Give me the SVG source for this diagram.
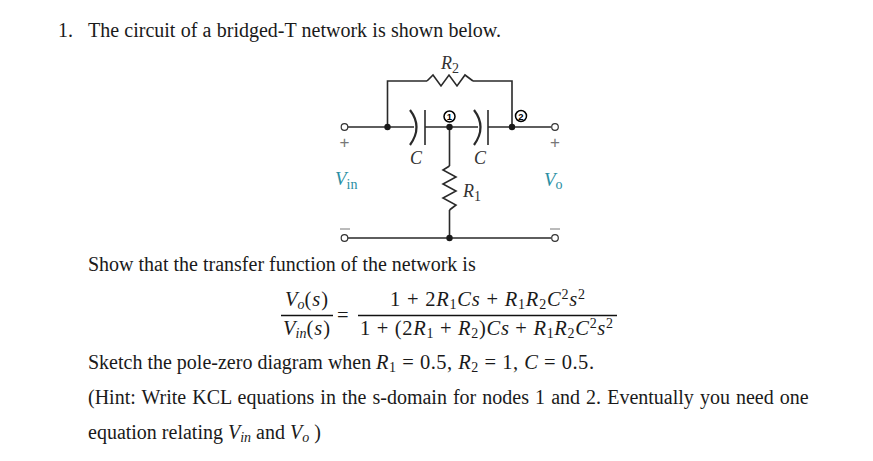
<svg xmlns="http://www.w3.org/2000/svg" width="873" height="461" viewBox="0 0 873 461">
<style>
text{font-family:"Liberation Serif","Times New Roman",serif;fill:#1a1a1a}
.b{font-size:20px}
.m{font-size:20.500px}
.i{font-style:italic}
.sb{font-size:14px}
.w{fill:none;stroke:#2a2a2a;stroke-width:1.6}
.a{fill:none;stroke:#2a2a2a;stroke-width:2.200}
.dot{fill:#1a1a1a}
.t{fill:#fff;stroke:#333;stroke-width:1.2}
.lab{font-size:18px;font-style:italic;fill:#333}
.cy{font-size:19px;font-style:italic;fill:#2b8fa3}
.sub{font-size:14px;font-style:normal}
.n{font-family:"Liberation Sans",sans-serif;font-size:9.500px;font-weight:bold;text-anchor:middle;fill:#000}
.nc{fill:#fff;stroke:#000;stroke-width:1.500}
.sg{font-family:"Liberation Sans",sans-serif;font-size:17px;fill:#777;text-anchor:middle}
.r{stroke:#111;stroke-width:1.500}
</style>
<rect width="873" height="461" fill="#fff"/>
<g id="connectors">
<path class="w" d="M348 127H414M425 127H478M488 127H551M387.500 127V81H427M473 81H512V127M449.500 127V166M449.500 210V238M348 238H551"/>
<path class="w" d="M427 81L433 75L441 86L449 75L457 86L465 75L473 81"/>
<path class="w" d="M449.500 166L443 170L456 177L443 184L456 191L443 198L456 205L449.500 210"/>
</g>
<g id="cap1"><path class="a" d="M410 110Q423 127 410 145"/><path class="w" d="M425 110V145"/></g>
<g id="cap2"><path class="a" d="M474 110Q487 127 474 145"/><path class="w" d="M488 110V145"/></g>
<g id="junctions">
<circle class="dot" cx="387.500" cy="127" r="3.200"/><circle class="dot" cx="449.500" cy="127" r="3.200"/><circle class="dot" cx="512" cy="127" r="3.200"/><circle class="dot" cx="449.500" cy="238" r="3.200"/>
</g>
<g id="node1"><circle class="nc" cx="449.500" cy="116.500" r="5.500"/><text class="n" x="449.500" y="120">1</text></g>
<g id="node2"><circle class="nc" cx="521" cy="116" r="5.500"/><text class="n" x="521" y="119.500">2</text></g>
<g id="terminals">
<circle class="t" cx="344.500" cy="127" r="3.300"/><circle class="t" cx="555" cy="127" r="3.300"/><circle class="t" cx="344.500" cy="238" r="3.300"/><circle class="t" cx="555" cy="238" r="3.300"/>
<text class="sg" x="344.500" y="148">+</text><text class="sg" x="555" y="148">+</text>
<path d="M340 229H350M550 229H560" stroke="#777" stroke-width="1"/>
</g>
<g id="labels">
<text class="lab" x="441" y="69">R<tspan class="sub" dy="4">2</tspan></text>
<text class="lab" x="410" y="164">C</text>
<text class="lab" x="474" y="164">C</text>
<text class="lab" x="463" y="197">R<tspan class="sub" dy="4">1</tspan></text>
<text class="cy" x="335" y="185">V<tspan class="sub" dy="4">in</tspan></text>
<text class="cy" x="544" y="186">V<tspan class="sub" dy="3">o</tspan></text>
</g>
<text class="b" x="58" y="37">1.</text>
<text class="b" x="88" y="37" word-spacing="0.250">The circuit of a bridged-T network is shown below.</text>
<text class="b" x="88" y="271">Show that the transfer function of the network is</text>
<g id="equation">
<text class="m" x="285" y="306"><tspan class="i">V</tspan><tspan class="sb i" dy="3">o</tspan><tspan dy="-3" letter-spacing="1">(</tspan><tspan class="i" letter-spacing="1">s</tspan>)</text>
<text class="m" x="283" y="335"><tspan class="i">V</tspan><tspan class="sb i" dy="3">in</tspan><tspan dy="-3" letter-spacing="1">(</tspan><tspan class="i" letter-spacing="1">s</tspan>)</text>
<path class="r" d="M281 315.500H333M358 315.500H617"/>
<text class="m" x="337" y="322">=</text>
<text class="m" x="390" y="306" textLength="195" xml:space="preserve">1 + 2<tspan class="i">R</tspan><tspan class="sb" dy="3">1</tspan><tspan class="i" dy="-3">Cs</tspan> + <tspan class="i">R</tspan><tspan class="sb" dy="3">1</tspan><tspan class="i" dy="-3">R</tspan><tspan class="sb" dy="3">2</tspan><tspan class="i" dy="-3">C</tspan><tspan class="sb" dy="-7">2</tspan><tspan class="i" dy="7">s</tspan><tspan class="sb" dy="-7">2</tspan></text>
<text class="m" x="360" y="335" textLength="253" xml:space="preserve">1 + (2<tspan class="i">R</tspan><tspan class="sb" dy="3">1</tspan><tspan dy="-3"> + </tspan><tspan class="i">R</tspan><tspan class="sb" dy="3">2</tspan><tspan dy="-3">)</tspan><tspan class="i">Cs</tspan> + <tspan class="i">R</tspan><tspan class="sb" dy="3">1</tspan><tspan class="i" dy="-3">R</tspan><tspan class="sb" dy="3">2</tspan><tspan class="i" dy="-3">C</tspan><tspan class="sb" dy="-7">2</tspan><tspan class="i" dy="7">s</tspan><tspan class="sb" dy="-7">2</tspan></text>
</g>
<text class="b" x="88" y="369">Sketch the pole-zero diagram when</text>
<text class="m" x="376" y="369" textLength="218" xml:space="preserve"><tspan class="i">R</tspan><tspan class="sb" dy="3">1</tspan><tspan dy="-3"> = 0.5, </tspan><tspan class="i">R</tspan><tspan class="sb" dy="3">2</tspan><tspan dy="-3"> = 1, </tspan><tspan class="i">C</tspan> = 0.5.</text>
<text class="b" x="88" y="404" word-spacing="1.070">(Hint: Write KCL equations in the s-domain for nodes 1 and 2. Eventually you need one</text>
<text class="b" x="88" y="439">equation relating <tspan class="i">V</tspan><tspan class="sb i" dy="3">in</tspan><tspan dy="-3"> and </tspan><tspan class="i">V</tspan><tspan class="sb i" dy="3">o</tspan><tspan dy="-3"> )</tspan></text>
</svg>
